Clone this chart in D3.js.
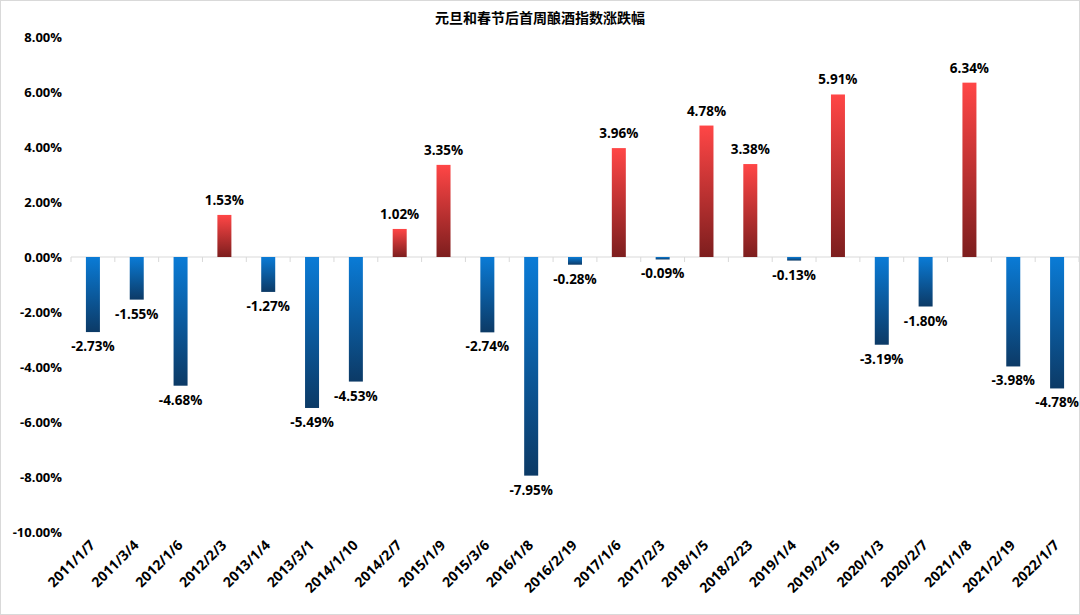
<!DOCTYPE html>
<html>
<head>
<meta charset="utf-8">
<script src="https://cdn.jsdelivr.net/npm/d3@7"></script>
<style>
  body { margin: 0; background: #fff; }
  svg text { font-family: "Open Sans", "Noto Sans", "Noto Sans CJK SC", sans-serif; font-weight: bold; fill: #000; }
</style>
</head>
<body>
<div id="chart"></div>
<script>
const title = "元旦和春节后首周酿酒指数涨跌幅";
const dates = ["2011/1/7", "2011/3/4", "2012/1/6", "2012/2/3", "2013/1/4", "2013/3/1",
  "2014/1/10", "2014/2/7", "2015/1/9", "2015/3/6", "2016/1/8", "2016/2/19", "2017/1/6",
  "2017/2/3", "2018/1/5", "2018/2/23", "2019/1/4", "2019/2/15", "2020/1/3", "2020/2/7",
  "2021/1/8", "2021/2/19", "2022/1/7"];
const changes = [-2.73, -1.55, -4.68, 1.53, -1.27, -5.49, -4.53, 1.02, 3.35, -2.74, -7.95,
  -0.28, 3.96, -0.09, 4.78, 3.38, -0.13, 5.91, -3.19, -1.80, 6.34, -3.98, -4.78];
const yTicks = [8, 6, 4, 2, 0, -2, -4, -6, -8, -10];

const width = 1080, height = 615;
const margin = { top: 37, right: 1, bottom: 83, left: 71 };
const pct = d => d.toFixed(2) + "%";

const svg = d3.select("#chart").append("svg")
  .attr("width", width).attr("height", height);

svg.append("rect").attr("x", 0.5).attr("y", 0.5)
  .attr("width", width - 1).attr("height", height - 1)
  .attr("fill", "#fff").attr("stroke", "#d9d9d9");

const defs = svg.append("defs");
const blue = defs.append("linearGradient").attr("id", "gBlue")
  .attr("x1", 0).attr("y1", 0).attr("x2", 0).attr("y2", 1);
blue.append("stop").attr("offset", "0%").attr("stop-color", "#0a7bd6");
blue.append("stop").attr("offset", "100%").attr("stop-color", "#0c3a66");
const red = defs.append("linearGradient").attr("id", "gRed")
  .attr("x1", 0).attr("y1", 0).attr("x2", 0).attr("y2", 1);
red.append("stop").attr("offset", "0%").attr("stop-color", "#ff4646");
red.append("stop").attr("offset", "100%").attr("stop-color", "#7d1e1e");

const x = d3.scaleBand().domain(dates)
  .range([margin.left, width - margin.right]);
const y = d3.scaleLinear().domain([-10, 8])
  .range([height - margin.bottom, margin.top]);

svg.append("text").attr("x", width / 2).attr("y", 23)
  .attr("text-anchor", "middle").style("font-size", "14px").text(title);

// y axis labels
svg.append("g")
  .attr("transform", `translate(${margin.left}, 0)`)
  .call(d3.axisLeft(y).tickValues(yTicks).tickSize(0).tickPadding(9)
    .tickFormat(pct))
  .call(g => g.select(".domain").remove())
  .call(g => g.selectAll("text").style("font-size", "13px")
    .style("font-family", "\"Open Sans\", \"Noto Sans\", sans-serif"));

// zero line with ticks at band edges
const zero = svg.append("g");
zero.append("line").attr("x1", margin.left).attr("x2", width - margin.right)
  .attr("y1", y(0)).attr("y2", y(0)).attr("stroke", "#d9d9d9");
zero.selectAll(".tk").data(dates.concat(["end"])).enter().append("line")
  .attr("x1", (d, i) => margin.left + i * x.step())
  .attr("x2", (d, i) => margin.left + i * x.step())
  .attr("y1", y(0)).attr("y2", y(0) + 5).attr("stroke", "#d9d9d9");

const barW = 14;
svg.selectAll(".bar").data(changes).enter().append("rect")
  .attr("x", (d, i) => x(dates[i]) + x.bandwidth() / 2 - barW / 2)
  .attr("y", d => y(Math.max(0, d)))
  .attr("width", barW)
  .attr("height", d => Math.abs(y(d) - y(0)))
  .attr("fill", d => d >= 0 ? "url(#gRed)" : "url(#gBlue)");

svg.selectAll(".lbl").data(changes).enter().append("text")
  .attr("x", (d, i) => x(dates[i]) + x.bandwidth() / 2)
  .attr("y", d => d >= 0 ? y(d) - 10 : y(d) + 19)
  .attr("text-anchor", "middle")
  .style("font-size", "13.5px")
  .text(pct);

// x labels at the bottom, rotated
svg.selectAll(".xl").data(dates).enter().append("text")
  .attr("transform", d => `translate(${x(d) + x.bandwidth() / 2 + 3}, ${y(-10) + 14}) rotate(-45)`)
  .attr("text-anchor", "end")
  .style("font-size", "14px")
  .text(d => d);
</script>
</body>
</html>
